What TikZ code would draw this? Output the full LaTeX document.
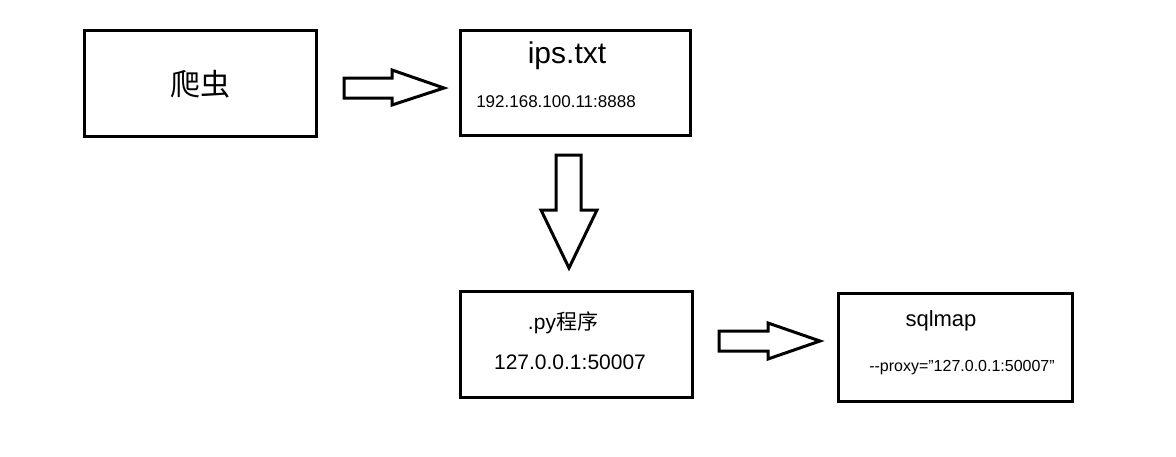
\documentclass[tikz,border=0pt]{standalone}
\usepackage{fontspec}
\setmainfont{Liberation Sans}
\newfontfamily\cjk{Noto Sans CJK SC}
\begin{document}
\begin{tikzpicture}
	[x=1pt,y=-1pt,%
	box/.style ={draw=black, line width=3pt},%
	blockarrow/.style ={draw=black, line width=3pt, line join=miter},%
	]
	\useasboundingbox (0,0) rectangle (1176,456);

	% boxes
	\draw [box] (84,30) rectangle (316,136);
	\draw [box] (460,30) rectangle (690,135);
	\draw [box] (460,291) rectangle (692,397);
	\draw [box] (838,293) rectangle (1072,401);

	% texts
	\node (crawler) at (200,84) {\cjk\fontsize{30}{34}\selectfont 爬虫};
	\node (ips) at (567,56) {\fontsize{30}{34}\selectfont ips.txt};
	\node (ipaddr) at (556,102) {\fontsize{17}{20}\selectfont 192.168.100.11:8888};
	\node (py) at (563,323) {\fontsize{21}{24}\selectfont .py{\cjk 程序}};
	\node (local) at (570,362) {\fontsize{21}{24}\selectfont 127.0.0.1:50007};
	\node (sqlmap) at (941,321) {\fontsize{22}{24}\selectfont sqlmap};
	\node (proxy) at (962,368) {\fontsize{16}{18}\selectfont -{}-proxy=\symbol{34}127.0.0.1:50007\symbol{34}};

	% arrows
	\draw [blockarrow] (344,78) -- (392,78) -- (392,70) -- (444,88) -- (392,105) -- (392,98) -- (344,98) -- cycle;
	\draw [blockarrow] (556,155) -- (581,155) -- (581,210) -- (597,210) -- (569,268) -- (541,210) -- (556,210) -- cycle;
	\draw [blockarrow] (719,331) -- (768,331) -- (768,323) -- (820,341) -- (768,359) -- (768,351) -- (719,351) -- cycle;
\end{tikzpicture}
\end{document}
